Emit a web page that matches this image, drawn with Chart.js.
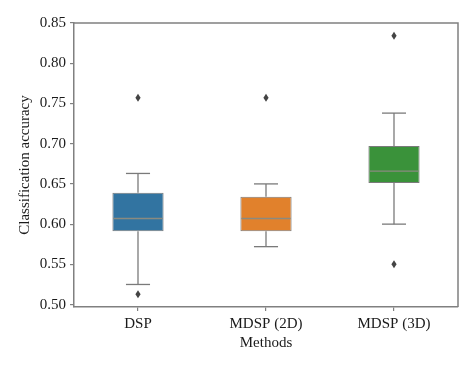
<!DOCTYPE html>
<html><head><meta charset="utf-8">
<script src="https://cdn.jsdelivr.net/npm/chart.js@4/dist/chart.umd.min.js"></script>
<style>html,body{margin:0;padding:0;background:#fff}#wrap{width:474px;height:366px}</style>
</head><body><div id="wrap"><canvas id="c" width="474" height="366"></canvas></div>
<script>
const categories = ['DSP', 'MDSP (2D)', 'MDSP (3D)'];
const q1 = [0.591, 0.591, 0.651];
const q3 = [0.639, 0.634, 0.697];
const medians = [0.607, 0.607, 0.666];
const whiskerLow = [0.525, 0.572, 0.600];
const whiskerHigh = [0.663, 0.650, 0.738];
const outliers = [[0.757, 0.513], [0.757], [0.834, 0.550]];
const yTicks = [0.50, 0.55, 0.60, 0.65, 0.70, 0.75, 0.80, 0.85];
const boxColors = ['#3274a1', '#e1812c', '#3a923a'];

const lineGray = '#7a7a7a';
const frameGray = '#808080';
const fontFam = '"Liberation Serif", "DejaVu Serif", serif';

const boxPlugin = {
  id: 'boxExtras',
  afterDatasetsDraw(chart) {
    const ctx = chart.ctx, xs = chart.scales.x, ys = chart.scales.y;
    const catW = xs.getPixelForValue(1) - xs.getPixelForValue(0);
    const boxHalf = catW * 0.4 / 2;
    const capHalf = boxHalf * 0.47;
    ctx.save();
    ctx.strokeStyle = lineGray;
    ctx.lineWidth = 1.3;
    categories.forEach((c, i) => {
      const cx = xs.getPixelForValue(i);
      const seg = (x1, y1, x2, y2) => { ctx.beginPath(); ctx.moveTo(x1, y1); ctx.lineTo(x2, y2); ctx.stroke(); };
      seg(cx, ys.getPixelForValue(q3[i]), cx, ys.getPixelForValue(whiskerHigh[i]));
      seg(cx, ys.getPixelForValue(q1[i]), cx, ys.getPixelForValue(whiskerLow[i]));
      seg(cx - capHalf, ys.getPixelForValue(whiskerHigh[i]), cx + capHalf, ys.getPixelForValue(whiskerHigh[i]));
      seg(cx - capHalf, ys.getPixelForValue(whiskerLow[i]), cx + capHalf, ys.getPixelForValue(whiskerLow[i]));
      ctx.strokeStyle = '#8a8a80';
      seg(cx - boxHalf + 1, ys.getPixelForValue(medians[i]), cx + boxHalf - 1, ys.getPixelForValue(medians[i]));
      ctx.strokeStyle = lineGray;
      ctx.fillStyle = '#444';
      outliers[i].forEach(v => {
        const py = ys.getPixelForValue(v);
        ctx.beginPath();
        ctx.moveTo(cx, py - 4); ctx.lineTo(cx + 2.6, py); ctx.lineTo(cx, py + 4); ctx.lineTo(cx - 2.6, py);
        ctx.closePath(); ctx.fill();
      });
    });
    const a = chart.chartArea;
    ctx.strokeStyle = frameGray; ctx.lineWidth = 1.5;
    ctx.beginPath(); ctx.moveTo(a.left, a.top); ctx.lineTo(a.right, a.top); ctx.lineTo(a.right, a.bottom); ctx.stroke();
    ctx.restore();
  }
};

new Chart(document.getElementById('c'), {
  type: 'bar',
  data: {
    labels: categories,
    datasets: [{
      data: categories.map((c, i) => [q1[i], q3[i]]),
      backgroundColor: boxColors,
      borderColor: lineGray,
      borderWidth: 1,
      borderSkipped: false,
      barPercentage: 0.4,
      categoryPercentage: 1.0
    }]
  },
  options: {
    responsive: false,
    animation: false,
    devicePixelRatio: 1,
    layout: { padding: { top: 23, right: 16, left: 16, bottom: 14 } },
    plugins: { legend: { display: false }, tooltip: { enabled: false } },
    scales: {
      x: {
        grid: { display: true, drawOnChartArea: false, offset: false, tickLength: 4, color: frameGray, lineWidth: 1.2 },
        border: { display: true, color: frameGray, width: 1.5 },
        ticks: { color: '#1a1a1a', font: { family: fontFam, size: 15 }, padding: 4 },
        title: { display: true, text: 'Methods', color: '#1a1a1a', font: { family: fontFam, size: 15 }, padding: { top: 0, bottom: 0 } },
        afterFit(s) { s.height = 45; }
      },
      y: {
        min: 0.497, max: 0.85,
        afterBuildTicks(s) { s.ticks = yTicks.map(v => ({ value: v })); },
        grid: { display: true, drawOnChartArea: false, tickLength: 4, color: frameGray, lineWidth: 1.2 },
        border: { display: true, color: frameGray, width: 1.5 },
        ticks: { color: '#1a1a1a', font: { family: fontFam, size: 15 }, padding: 4, callback: v => Number(v).toFixed(2) },
        title: { display: true, text: 'Classification accuracy', color: '#1a1a1a', font: { family: fontFam, size: 15 }, padding: { top: 0, bottom: 4 } },
        afterFit(s) { s.width = 58; }
      }
    }
  },
  plugins: [boxPlugin]
});
</script></body></html>
